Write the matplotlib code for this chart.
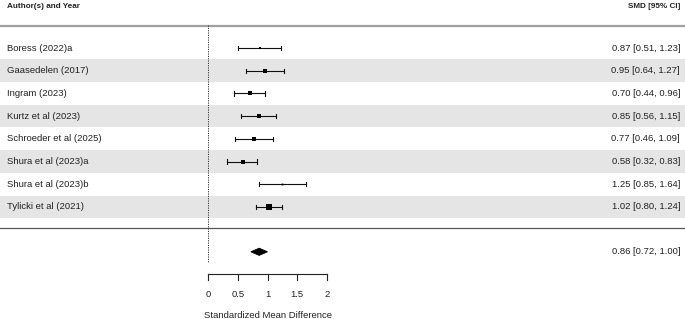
import matplotlib
matplotlib.use("Agg")
import matplotlib.pyplot as plt
import numpy as np

plt.rcParams['font.family'] = ['Liberation Sans', 'DejaVu Sans']

studies = ["Boress (2022)a", "Gaasedelen (2017)", "Ingram (2023)", "Kurtz et al (2023)",
           "Schroeder et al (2025)", "Shura et al (2023)a", "Shura et al (2023)b", "Tylicki et al (2021)"]
smd = [0.87, 0.95, 0.70, 0.85, 0.77, 0.58, 1.25, 1.02]
ci_low = [0.51, 0.64, 0.44, 0.56, 0.46, 0.32, 0.85, 0.80]
ci_high = [1.23, 1.27, 0.96, 1.15, 1.09, 0.83, 1.64, 1.24]
pooled = 0.86
pooled_low = 0.72
pooled_high = 1.00
xticks = [0, 0.5, 1, 1.5, 2]
xtick_labels = ["0", "0.5", "1", "1.5", "2"]

W, H, DPI = 685, 319, 100
fig = plt.figure(figsize=(W / DPI, H / DPI), dpi=DPI)
ax = fig.add_axes([0, 0, 1, 1])

# coordinate system: x in SMD units, y in row units
px_per_unit = 59.5
x0_px = 208.0
row0_px = 48.0
row_px = 22.7
ax.set_xlim(-x0_px / px_per_unit, (W - x0_px) / px_per_unit)
ax.set_ylim((H - row0_px) / row_px, -row0_px / row_px)
ax.axis('off')

n = len(studies)
rows = np.arange(n)
xl, xr = ax.get_xlim()
px = 1.0 / px_per_unit  # one pixel in x data units
py = 1.0 / row_px       # one pixel in y data units
FS = 6.8
HFS = 5.9
TC = '#222222'

# alternating shading
for i in rows:
    if i % 2 == 1:
        ax.axhspan(i - 0.5, i + 0.5, color='#e5e5e5', lw=0, zorder=0)

# header line and bottom line
ax.axhline(-1 + 1 * py, color='#a0a0a0', lw=1.6, zorder=1)
ax.axhline(n - 1.5 * py, color='#555555', lw=0.9, zorder=1)

# reference line
ax.plot([0, 0], [-1, n + 1.45], color='#333333', lw=0.7, ls=(0, (1.2, 1.2)), zorder=2)

# weights-based box sizes
inv_w = 1.0 / (np.array(ci_high) - np.array(ci_low))
norm = (inv_w - inv_w.min()) / (inv_w.max() - inv_w.min())
box_px = 1.8 + norm * (6.2 - 1.8)

cap = 2.2 * py
for i in rows:
    ax.plot([ci_low[i], ci_high[i]], [i, i], color='#111111', lw=0.8, zorder=3)
    for xv in (ci_low[i], ci_high[i]):
        ax.plot([xv, xv], [i - cap, i + cap], color='#111111', lw=0.8, zorder=3)
    ax.plot([smd[i]], [i], marker='s', ms=box_px[i] * 0.72, color='black', mew=0, zorder=4)

    ax.text(7 * px + xl, i, studies[i], ha='left', va='center', fontsize=FS, color=TC)
    ax.text(xr - 5 * px, i, f"{smd[i]:.2f} [{ci_low[i]:.2f}, {ci_high[i]:.2f}]",
            ha='right', va='center', fontsize=FS, color=TC)

# summary diamond
ys = n + 1 - 0.5 * py
dh = 3.6 * py
ax.fill([pooled_low, pooled, pooled_high, pooled], [ys, ys - dh, ys, ys + dh],
        facecolor='black', edgecolor='black', lw=0.6, zorder=4)
ax.text(xr - 5 * px, ys, f"{pooled:.2f} [{pooled_low:.2f}, {pooled_high:.2f}]",
        ha='right', va='center', fontsize=FS, color=TC)

# headers
ax.text(7 * px + xl, -1.85, "Author(s) and Year", ha='left', va='center', fontsize=HFS,
        fontweight='bold', color=TC)
ax.text(xr - 5 * px, -1.85, "SMD [95% CI]", ha='right', va='center', fontsize=HFS,
        fontweight='bold', color=TC)

# x axis
ya = n + 2 - 0.6 * py
ax.plot([xticks[0], xticks[-1]], [ya, ya], color=TC, lw=0.8)
for t, lab in zip(xticks, xtick_labels):
    ax.plot([t, t], [ya, ya + 6 * py], color=TC, lw=0.8)
    ax.text(t, ya + 20 * py, lab, ha='center', va='center', fontsize=FS, color=TC)
ax.text((xticks[0] + xticks[-1]) / 2, ya + 44 * py, "Standardized Mean Difference",
        ha='center', va='baseline', fontsize=FS, color=TC)

fig.savefig("out.png", dpi=DPI)
